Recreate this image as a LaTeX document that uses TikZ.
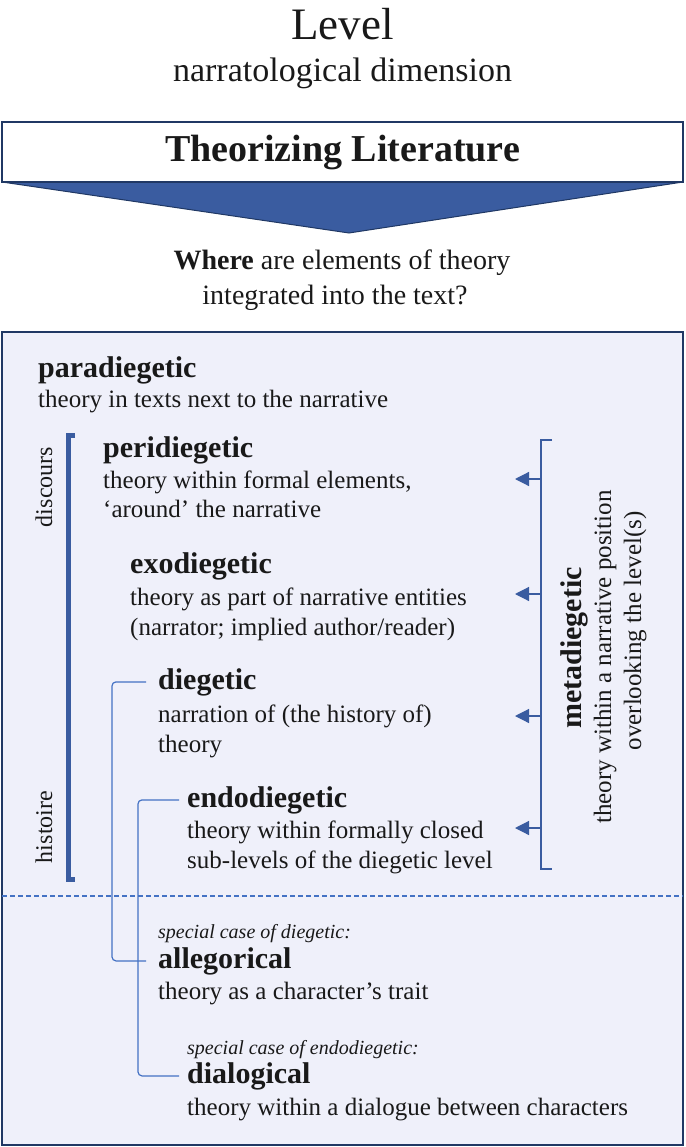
\documentclass[tikz,border=0pt]{standalone}
\usepackage{fontspec}
\setmainfont{Liberation Serif}
\usetikzlibrary{arrows.meta}

\definecolor{navy}{HTML}{203864}
\definecolor{lav}{HTML}{EFF0FA}
\definecolor{blueFill}{HTML}{3A5CA0}
\definecolor{lineBlue}{HTML}{4472C4}

\begin{document}
\begin{tikzpicture}[x=1pt,y=-1pt,
    every node/.style={inner sep=0pt,text=black!90},
    txt/.style={anchor=base west,font=\fontsize{25}{30}\selectfont},
    head/.style={anchor=base west,font=\fontsize{30}{36}\selectfont\bfseries},
    case/.style={anchor=base west,font=\fontsize{20}{24}\selectfont\itshape},
    conn/.style={lineBlue,line width=1.2pt,rounded corners=4pt},
    meta/.style={blueFill,line width=1.2pt}]

    \useasboundingbox (0,0) rectangle (685,1147);

    % Heading
    \node[anchor=base,font=\fontsize{45}{50}\selectfont] (level) at (342.5,40) {Level};
    \node[anchor=base,font=\fontsize{34}{40}\selectfont] (dim) at (342.5,82) {narratological dimension};

    % Banner
    \filldraw[fill=blueFill,draw=navy,line width=1pt] (2,182) -- (683,182) -- (349,233) -- cycle;
    \filldraw[fill=white,draw=navy,line width=1.5pt] (2,122) rectangle (683,182);
    \node[anchor=base,font=\fontsize{38}{44}\selectfont\bfseries] (theo) at (342.5,162) {Theorizing Literature};

    \node[anchor=base,font=\fontsize{28}{34}\selectfont] (q1) at (342,270) {\textbf{Where} are elements of theory};
    \node[anchor=base,font=\fontsize{28}{34}\selectfont] (q2) at (335,305) {integrated into the text?};

    % Main box
    \filldraw[fill=lav,draw=navy,line width=2.5pt] (2,332) rectangle (683,1145);
    \draw[lineBlue,line width=1.2pt,dash pattern=on 5pt off 3pt] (2,896) -- (683,896);

    % Entries
    \node[head] (para) at (38,377) {paradiegetic};
    \node[txt] (para1) at (38,407) {theory in texts next to the narrative};

    \node[head] (peri) at (103,457) {peridiegetic};
    \node[txt] (peri1) at (103,488) {theory within formal elements,};
    \node[txt] (peri2) at (103,517) {‘around’ the narrative};

    \node[head] (exo) at (130,573) {exodiegetic};
    \node[txt] (exo1) at (130,605) {theory as part of narrative entities};
    \node[txt] (exo2) at (130,635) {(narrator; implied author/reader)};

    \node[head] (dieg) at (158,689) {diegetic};
    \node[txt] (dieg1) at (158,722) {narration of (the history of)};
    \node[txt] (dieg2) at (158,752) {theory};

    \node[head] (endo) at (187,807) {endodiegetic};
    \node[txt] (endo1) at (187,838) {theory within formally closed};
    \node[txt] (endo2) at (187,868) {sub-levels of the diegetic level};

    \node[case] (alcase) at (158,938) {special case of diegetic:};
    \node[head] (alleg) at (158,968) {allegorical};
    \node[txt] (alleg1) at (158,999) {theory as a character’s trait};

    \node[case] (dicase) at (187,1054) {special case of endodiegetic:};
    \node[head] (dial) at (187,1083) {dialogical};
    \node[txt] (dial1) at (187,1115) {theory within a dialogue between characters};

    % discours / histoire
    \draw[blueFill,line width=5pt] (75,435) -- (68,435) -- (68,879) -- (75,879);
    \node[rotate=90,font=\fontsize{24}{28}\selectfont] (disc) at (44,487) {discours};
    \node[rotate=90,font=\fontsize{24}{28}\selectfont] (hist) at (44,827) {histoire};

    % Special cases
    \draw[conn] ([xshift=-12pt]dieg.west) -- ++(-34,0) |- ([xshift=-12pt]alleg.west);
    \draw[conn] ([xshift=-8pt]endo.west) -- ++(-41,0) |- ([xshift=-8pt]dial.west);

    % Metadiegetic
    \draw[meta] (552,440) -- (541,440) -- (541,869) -- (552,869);
    \coordinate (m1) at (541,479); \coordinate (t1) at (515,479);
    \coordinate (m2) at (541,594); \coordinate (t2) at (515,594);
    \coordinate (m3) at (541,716); \coordinate (t3) at (515,716);
    \coordinate (m4) at (541,828); \coordinate (t4) at (515,828);
    \foreach \i in {1,...,4}
        \draw[meta,-{Triangle[length=14pt,width=14pt]}] (m\i) -- (t\i);

    \node[rotate=90,anchor=base,font=\fontsize{30}{36}\selectfont\bfseries] (metah) at (581,648) {metadiegetic};
    \node[rotate=90,anchor=base,font=\fontsize{25}{30}\selectfont] (meta1) at (611,657) {theory within a narrative position};
    \node[rotate=90,anchor=base,font=\fontsize{25}{30}\selectfont] (meta2) at (641,631) {overlooking the level(s)};
\end{tikzpicture}
\end{document}
